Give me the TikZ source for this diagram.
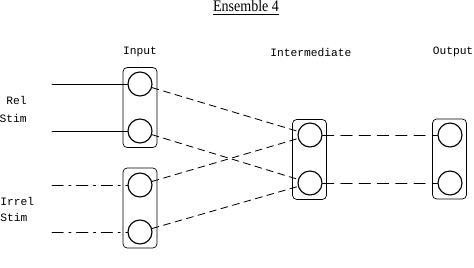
\documentclass[tikz,border=0pt]{standalone}
\usepackage{fontspec}
\setmainfont{Liberation Serif}
\setmonofont{Liberation Mono}
\usetikzlibrary{positioning,calc}

\begin{document}
\begin{tikzpicture}[x=0.025cm, y=-0.025cm, line cap=round, line join=round,
  unit/.style={draw, circle, line width=0.8pt, minimum size=0.6cm, inner sep=0pt},
  layer/.style={draw, rounded corners=3pt, line width=0.5pt, minimum width=0.85cm, minimum height=2cm, inner sep=0pt},
  lbl/.style={font=\ttfamily\fontsize{8}{9}\selectfont, inner sep=0pt},
  feed/.style={line width=0.6pt, dash pattern=on 5pt off 3.5pt},
  relay/.style={line width=0.6pt, dash pattern=on 8pt off 5pt},
  noise/.style={line width=0.6pt, dash pattern=on 8pt off 4pt on 1.5pt off 4pt},
  stim/.style={line width=0.7pt}]

\useasboundingbox (0,0) rectangle (474,268);

\node[font=\fontsize{10}{12}\selectfont, yscale=1.15] (title) at (246,8) {\underline{Ensemble 4}};

\node[lbl] (inLbl) at (140,52) {Input};
\node[lbl] (midLbl) at (311,52) {Intermediate};
\node[lbl] (outLbl) at (453,52) {Output};

\node[lbl, anchor=east] (relA) at (27,100) {Rel};
\node[lbl, anchor=east] (relB) at (27,118) {Stim};
\node[lbl, anchor=west] (irrA) at (0,201) {Irrel};
\node[lbl, anchor=west] (irrB) at (0,217) {Stim};

% boxes
\node[layer] (inBox1) at (140,107.5) {};
\node[layer] (inBox2) at (140,208) {};
\node[layer] (midBox) at (309.5,159.5) {};
\node[layer] (outBox) at (449.5,159) {};

% units
\node[unit] (in1) at (140,84) {};
\node[unit] (in2) at (140,131) {};
\node[unit] (in3) at (140,185) {};
\node[unit] (in4) at (140,232) {};
\node[unit] (mid1) at (310,135) {};
\node[unit] (mid2) at (310,183) {};
\node[unit] (out1) at (450,135) {};
\node[unit] (out2) at (450,183) {};

% stimulus lines
\coordinate (s1) at (52,84);
\coordinate (s2) at (52,131);
\coordinate (s3) at (52,185);
\coordinate (s4) at (52,232);
\draw[stim] (s1) -- (in1);
\draw[stim] (s2) -- (in2);
\draw[noise] (s3) -- (in3);
\draw[noise] (s4) -- (in4);

% connections
\draw[feed] (in1) -- (mid1);
\draw[feed] (in2) -- (mid2);
\draw[feed] (in3) -- (mid1);
\draw[feed] (in4) -- (mid2);
\draw[relay] (mid1) -- (out1);
\draw[relay] (mid2) -- (out2);

\end{tikzpicture}
\end{document}
